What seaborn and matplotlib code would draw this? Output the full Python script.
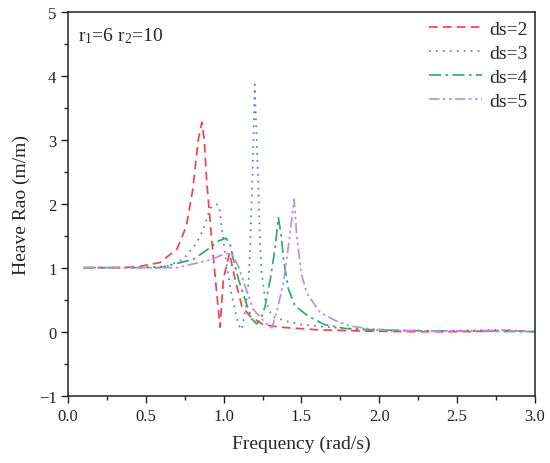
import numpy as np
import pandas as pd
import matplotlib
matplotlib.use('Agg')
import matplotlib.pyplot as plt
import seaborn as sns

# Heave RAO, one pair of lists per draft
ds2_freq = [0.1, 0.3, 0.44, 0.59, 0.70, 0.76, 0.80, 0.837, 0.86, 0.875, 0.89, 0.923, 0.951, 0.977,
            0.998, 1.037, 1.073, 1.117, 1.17, 1.254, 1.363, 1.6, 1.9, 2.2, 2.6, 2.8, 3.0]
ds2_rao = [1.0, 1.0, 1.01, 1.08, 1.29, 1.65, 2.2, 3.0, 3.27, 3.0, 2.38, 1.44, 0.71, 0.07,
           0.82, 1.23, 0.82, 0.4, 0.24, 0.11, 0.07, 0.03, 0.01, 0.0, 0.0, 0.02, 0.0]

ds3_freq = [0.1, 0.4, 0.634, 0.74, 0.827, 0.869, 0.912, 0.934, 0.955, 0.972, 0.988, 1.02, 1.052,
            1.095, 1.117, 1.14, 1.16, 1.17, 1.185, 1.20, 1.212, 1.223, 1.234, 1.245, 1.267, 1.31,
            1.395, 1.5, 1.63, 1.78, 2.0, 2.3, 2.8, 3.0]
ds3_rao = [1.0, 1.0, 1.02, 1.13, 1.39, 1.6, 1.92, 1.97, 1.99, 1.96, 1.6, 1.02, 0.56,
           0.11, 0.03, 0.35, 0.77, 1.3, 2.4, 3.86, 3.0, 2.3, 1.34, 0.9, 0.5, 0.24,
           0.17, 0.11, 0.08, 0.05, 0.02, 0.01, 0.03, 0.0]

ds4_freq = [0.1, 0.4, 0.59, 0.805, 0.912, 0.97, 1.015, 1.04, 1.062, 1.095, 1.138, 1.18, 1.213,
            1.24, 1.267, 1.30, 1.33, 1.352, 1.37, 1.385, 1.417, 1.46, 1.545, 1.65, 1.78, 1.95,
            2.1, 2.5, 3.0]
ds4_rao = [1.0, 1.0, 1.0, 1.13, 1.31, 1.42, 1.46, 1.38, 1.13, 0.82, 0.5, 0.2, 0.12,
           0.2, 0.4, 0.82, 1.29, 1.78, 1.5, 1.13, 0.66, 0.4, 0.24, 0.11, 0.05, 0.03,
           0.02, 0.01, 0.0]

ds5_freq = [0.1, 0.4, 0.70, 0.912, 0.99, 1.035, 1.06, 1.095, 1.138, 1.19, 1.267, 1.31, 1.34,
            1.385, 1.42, 1.453, 1.47, 1.50, 1.535, 1.62, 1.72, 1.81, 1.92, 2.1, 2.4, 2.8, 3.0]
ds5_rao = [1.0, 1.0, 1.0, 1.12, 1.2, 1.23, 1.18, 1.02, 0.71, 0.35, 0.14, 0.06, 0.3,
           0.77, 1.4, 2.07, 1.5, 0.9, 0.6, 0.3, 0.17, 0.09, 0.05, 0.02, 0.01, 0.02, 0.0]

labels = ['ds=2', 'ds=3', 'ds=4', 'ds=5']
colors = ['#f0444d', '#5580bd', '#35a872', '#bb90e2']
dashes = [(5, 3), (1, 3), (7, 2.5, 1.5, 2.5), (6, 2, 1.5, 2, 1.5, 2)]

sns.set_style('ticks')
plt.rcParams['font.family'] = ['Liberation Serif', 'DejaVu Serif']
plt.rcParams['mathtext.fontset'] = 'custom'
plt.rcParams['mathtext.rm'] = 'Liberation Serif'
plt.rcParams['mathtext.it'] = 'Liberation Serif:italic'

series = [(ds2_freq, ds2_rao), (ds3_freq, ds3_rao), (ds4_freq, ds4_rao), (ds5_freq, ds5_rao)]

fig = plt.figure(figsize=(5.5, 4.64), dpi=100)
ax = fig.add_axes([0.124, 0.145, 0.848, 0.828])

for (f, r), lab, c, d in zip(series, labels, colors, dashes):
    df = pd.DataFrame({'freq': f, 'rao': r})
    sns.lineplot(data=df, x='freq', y='rao', ax=ax, color=c, lw=1.25, label=lab)
    ax.lines[-1].set_dashes(d)

ax.set_xlim(0, 3.0)
ax.set_ylim(-1, 5)
ax.set_xticks(np.arange(0, 3.01, 0.5))
ax.set_yticks(np.arange(-1, 5.01, 1))
ax.set_xticks(np.arange(0.25, 3.0, 0.5), minor=True)
ax.set_yticks(np.arange(-0.5, 5.0, 1), minor=True)
ax.tick_params(which='major', direction='out', length=5, width=1, labelsize=12, colors='#222222')
ax.tick_params(which='minor', direction='out', length=3, width=1)
ax.set_xticklabels(['0.0', '0.5', '1.0', '1.5', '2.0', '2.5', '3.0'])
ax.set_yticklabels(['\u22121', '0', '1', '2', '3', '4', '5'])
for s in ax.spines.values():
    s.set_linewidth(1.1)
    s.set_color('#222222')

ax.set_xlabel('Frequency (rad/s)', fontsize=14, labelpad=8)
ax.set_ylabel('Heave Rao (m/m)', fontsize=14, labelpad=6)

ax.text(0.02, 0.965, r'r$_\mathrm{1}$=6 r$_\mathrm{2}$=10', transform=ax.transAxes,
        fontsize=14, va='top', ha='left')

leg = ax.legend(loc='upper right', bbox_to_anchor=(1.015, 1.012), frameon=False, fontsize=14,
                handlelength=2.7, labelspacing=0.32, handletextpad=0.4, borderaxespad=0.3)
for h, d in zip(leg.get_lines(), dashes):
    h.set_dashes(d)

fig.savefig('out.png', dpi=100)
